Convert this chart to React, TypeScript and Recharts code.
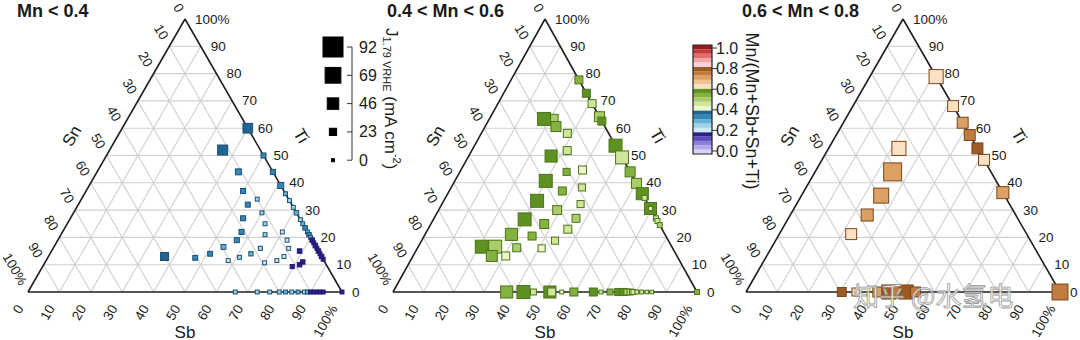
import React from 'react';
import { ScatterChart, Scatter, XAxis, YAxis, ReferenceLine, ReferenceArea } from 'recharts';

const W = 1080;
const H = 340;

const TICKS = [0, 10, 20, 30, 40, 50, 60, 70, 80, 90, 100];
const TITLES = ['Mn < 0.4', '0.4 < Mn < 0.6', '0.6 < Mn < 0.8'];
const SIZE_LEGEND = [92, 69, 46, 23, 0];
const COLOR_TICKS = [1.0, 0.8, 0.6, 0.4, 0.2, 0.0];

// each point: [Sb %, Ti %, J at 1.79 V_RHE (mA cm-2), Mn/(Mn+Sb+Sn+Ti)]
type Pt = [number, number, number, number];

const lowMn: Pt[] = [
  [40, 60, 36, 0.37], [36, 52, 38, 0.36], [50, 50, 11, 0.33], [56, 44, 11, 0.32],
  [45, 44, 16, 0.34], [61, 39, 16, 0.34], [50, 37, 11, 0.33], [56, 34, 5, 0.25],
  [54, 32, 11, 0.34], [60, 29, 5, 0.25], [71, 29, 8, 0.3], [55, 27, 11, 0.34],
  [63, 25, 5, 0.25], [70, 22, 5, 0.21], [57, 22, 11, 0.34], [65, 21, 5, 0.26],
  [57, 19, 11, 0.33], [73, 19, 5, 0.21], [66, 16, 6, 0.27], [54, 16.5, 10, 0.31],
  [75, 16, 5, 0.22], [64, 14, 7, 0.28], [61, 12.7, 5, 0.27], [75, 13, 5, 0.21],
  [58, 11.5, 5, 0.21], [51, 14, 10, 0.32], [47, 12.5, 10, 0.32], [37, 13, 27, 0.37],
  [70, 10.7, 5, 0.21], [73.5, 11.5, 5, 0.23],
  [79, 15, 8, 0.18], [82, 11, 8, 0.17], [81.5, 10, 8, 0.17], [79.5, 9.3, 6, 0.16],
  [64, 36, 5, 0.3], [66.5, 33.5, 5, 0.26], [69, 31, 5, 0.24], [73.5, 26.5, 5, 0.27],
  [75, 25, 5, 0.3], [76.5, 23.5, 8, 0.33], [78, 22, 5, 0.28], [79, 21, 8, 0.33],
  [80, 20, 5, 0.3], [81, 19, 8, 0.18], [82, 18, 5, 0.17], [83, 17, 8, 0.16],
  [84, 16, 5, 0.17], [85, 15, 8, 0.16], [86, 14, 5, 0.16], [87, 13, 8, 0.17],
  [88, 12, 5, 0.16],
  [66, 0, 5, 0.25], [73, 0, 5, 0.27], [77, 0, 5, 0.26], [80, 0, 5, 0.25],
  [82, 0, 5, 0.3], [84, 0, 5, 0.24], [86, 0, 5, 0.3], [88, 0, 5, 0.26],
  [89, 0, 5, 0.3], [90, 0, 5, 0.17], [91, 0, 5, 0.16], [92, 0, 5, 0.17],
  [93, 0, 5, 0.16], [94, 0, 5, 0.17], [100, 0, 5, 0.16],
];

const midMn: Pt[] = [
  [22.3, 77.7, 27, 0.52], [27.2, 72.8, 27, 0.56], [31, 69, 27, 0.46], [35.8, 64.2, 38, 0.5],
  [37.4, 62.6, 27, 0.56], [46.4, 53.6, 54, 0.58], [50.7, 49.3, 54, 0.46], [56, 44, 38, 0.52],
  [60.2, 39.8, 38, 0.5], [64, 36, 49, 0.56], [65.5, 34.5, 11, 0.44], [69.4, 30.6, 49, 0.58],
  [69.4, 30.6, 5, 0.42], [73, 27, 11, 0.44], [74, 26, 11, 0.46], [75.5, 24.5, 11, 0.48],
  [21.2, 63.6, 27, 0.5], [18, 63.4, 54, 0.56], [23.3, 60.6, 38, 0.52], [28.3, 58.1, 27, 0.44],
  [31.4, 51.8, 27, 0.44], [27.1, 49.8, 49, 0.57], [35.1, 44, 22, 0.53], [40, 44.7, 27, 0.42],
  [29.9, 40.7, 54, 0.57], [37.2, 37, 27, 0.53], [43, 38.3, 22, 0.44], [30.7, 33.4, 54, 0.57],
  [39, 30, 32, 0.5], [45.6, 32.2, 22, 0.44], [46.7, 27, 27, 0.48], [30, 26.6, 54, 0.56],
  [37.3, 24.9, 32, 0.52], [46, 23, 27, 0.44], [28.4, 21.1, 49, 0.53], [35.5, 20.5, 27, 0.52],
  [43.9, 18.8, 22, 0.44], [32.6, 16.2, 27, 0.48], [40.9, 16, 22, 0.42], [20.9, 16.6, 54, 0.57],
  [25.3, 16.6, 54, 0.48], [25.9, 13.2, 43, 0.52], [30.5, 13.2, 27, 0.43],
  [37.4, 0, 49, 0.52], [42.9, 0, 54, 0.58], [46.2, 0, 16, 0.44], [51.6, 0, 49, 0.58],
  [52.2, 0, 27, 0.44], [55.5, 0, 5, 0.41], [59.5, 0, 27, 0.52], [65.9, 0, 27, 0.58],
  [68.4, 0, 5, 0.44], [71.4, 0, 16, 0.52], [74.1, 0, 22, 0.58], [75.8, 0, 22, 0.58],
  [76.9, 0, 16, 0.5], [78, 0, 16, 0.46], [78.6, 0, 11, 0.42], [79.1, 0, 11, 0.44],
  [80.2, 0, 5, 0.44], [81.8, 0, 5, 0.44], [83.5, 0, 3, 0.44], [85.1, 0, 3, 0.44],
  [100, 0, 11, 0.52],
];

const highMn: Pt[] = [
  [21.1, 78.9, 60, 0.61], [31.9, 68.1, 43, 0.62], [38, 62, 43, 0.68], [42.5, 57.5, 43, 0.74],
  [47.4, 52.6, 43, 0.76], [51.6, 48.4, 43, 0.62], [63.6, 36.4, 49, 0.68],
  [22.4, 52.6, 60, 0.62], [24.7, 44, 81, 0.68], [25.4, 35.3, 65, 0.68], [24.5, 28.2, 49, 0.68],
  [22.9, 21.2, 43, 0.61],
  [30.5, 0, 32, 0.76], [35, 0, 27, 0.62], [42, 0, 38, 0.7], [45.5, 0, 60, 0.77],
  [48, 0, 49, 0.74], [51, 0, 60, 0.77], [54, 0, 38, 0.72], [100, 0, 70, 0.75],
];

// colour bar steps, bottom (0.0) to top (1.0)
const COLOR_STEPS = [
  '#d8d2f4', '#b4aaea', '#8c80dc', '#5a4cc0', '#2c2088',
  '#cdeaf6', '#9fd3ea', '#66b2d6', '#3585b5', '#1f6593',
  '#eef7c9', '#cfe69c', '#aacd6c', '#84b240', '#5f9122',
  '#fbe1c3', '#efc393', '#dca065', '#c07c3c', '#9c5b22',
  '#f7d2d2', '#efa6a6', '#df7070', '#c63c3c', '#9e1a1a',
];
const EDGE = ['#221870', '#1b4f72', '#4c7419', '#7a4518', '#7a1212'];

const PANELS = [
  { L: 28, R: 342, T: 19, B: 292 },
  { L: 393, R: 697, T: 19, B: 292 },
  { L: 746, R: 1060, T: 19, B: 292 },
];

type Panel = typeof PANELS[number];

function tern(p: Panel, sb: number, ti: number) {
  const sn = 1 - sb - ti;
  const cx = (p.L + p.R) / 2;
  return { x: p.L * sn + p.R * sb + cx * ti, y: p.B - (p.B - p.T) * ti };
}

const side = (j: number) => 3 + (17 * j) / 92;
const fillOf = (mn: number) => COLOR_STEPS[Math.max(0, Math.min(24, Math.floor(mn * 25)))];
const edgeOf = (mn: number) => EDGE[Math.max(0, Math.min(4, Math.floor(mn * 5)))];

const FONT = "Arial, 'Liberation Sans', Helvetica, sans-serif";

const points = [lowMn, midMn, highMn].flatMap((pts, i) =>
  pts.map(([sb, ti, j, mn]) => ({
    ...tern(PANELS[i], sb / 100, ti / 100),
    side: side(j),
    fill: fillOf(mn),
    stroke: edgeOf(mn),
  }))
);

const legendSquares = SIZE_LEGEND.map((j, i) => ({ x: 333, y: 47 + i * 28.3, side: side(j), fill: '#000', stroke: '#000' }));

type Lbl = { x: number; y: number; text: string; anchor: string; rot: number; size: number; weight?: number; rich?: string };

const labels: Lbl[] = [];
PANELS.forEach((p, i) => {
  TICKS.forEach((t) => {
    const txt = t === 100 ? '100%' : String(t);
    const v = t / 100;
    const b = tern(p, v, 0);
    labels.push({ x: b.x - 8, y: b.y + 14, text: txt, anchor: 'end', rot: -60, size: 13.5 });
    const r = tern(p, 1 - v, v);
    labels.push({ x: r.x + 10, y: r.y, text: txt, anchor: 'start', rot: 0, size: 13.5 });
    const l = tern(p, 0, 1 - v);
    labels.push({ x: l.x - 4.5, y: l.y - 7.8, text: txt, anchor: 'end', rot: 60, size: 13.5 });
  });
  const hw = (p.R - p.L) / 2;
  const cx = p.L + hw;
  labels.push({ x: cx - (113 * hw) / 157, y: p.T + 117, text: 'Sn', anchor: 'middle', rot: -60, size: 17 });
  labels.push({ x: cx + (116 * hw) / 157, y: p.T + 117, text: 'Ti', anchor: 'middle', rot: 60, size: 17 });
  labels.push({ x: cx, y: 332, text: 'Sb', anchor: 'middle', rot: 0, size: 17 });
});
labels.push({ x: 17, y: 11, text: TITLES[0], anchor: 'start', rot: 0, size: 18, weight: 700 });
labels.push({ x: 387, y: 11, text: TITLES[1], anchor: 'start', rot: 0, size: 18, weight: 700 });
labels.push({ x: 742, y: 11, text: TITLES[2], anchor: 'start', rot: 0, size: 18, weight: 700 });
SIZE_LEGEND.forEach((j, i) => labels.push({ x: 359, y: 47 + i * 28.3, text: String(j), anchor: 'start', rot: 0, size: 16 }));
COLOR_TICKS.forEach((c, i) => labels.push({ x: 716, y: 48 + i * 20.6, text: c.toFixed(1), anchor: 'start', rot: 0, size: 16 }));
labels.push({ x: 391, y: 28, text: 'J', anchor: 'start', rot: 90, size: 17, rich: 'j' });
labels.push({ x: 752, y: 111, text: 'Mn/(Mn+Sb+Sn+Ti)', anchor: 'middle', rot: 90, size: 18 });

const Square = (props: any) => {
  const { cx, cy, payload } = props;
  const s = payload.side;
  return <rect x={cx - s / 2} y={cy - s / 2} width={s} height={s} fill={payload.fill} stroke={payload.stroke} strokeWidth={1} />;
};

const TextMark = (props: any) => {
  const { cx, cy, payload: p } = props;
  return (
    <text
      x={cx}
      y={cy}
      textAnchor={p.anchor}
      dominantBaseline="central"
      fontSize={p.size}
      fontWeight={p.weight || 400}
      fontFamily={FONT}
      fill="#1a1a1a"
      transform={p.rot ? `rotate(${p.rot} ${cx} ${cy})` : undefined}
    >
      {p.rich === 'j' ? (
        <>
          J
          <tspan fontSize={11} dy={4}>1.79 VRHE</tspan>
          <tspan dy={-4}> (mA cm</tspan>
          <tspan fontSize={11} dy={-6}>-2</tspan>
          <tspan dy={6}>)</tspan>
        </>
      ) : (
        p.text
      )}
    </text>
  );
};

const Watermark = (props: any) => {
  const { cx, cy } = props;
  return (
    <text x={cx} y={cy} dominantBaseline="central" fontSize={26} fontFamily="'Noto Sans CJK SC', sans-serif" fill="#ffffff" stroke="#8a8a8a" strokeWidth={0.8} opacity={0.85}>
      知乎 @水氢电
    </text>
  );
};

function gridSegments() {
  const segs: { a: { x: number; y: number }; b: { x: number; y: number }; border: boolean }[] = [];
  PANELS.forEach((p) => {
    for (let k = 1; k < 10; k++) {
      const v = k / 10;
      segs.push({ a: tern(p, 0, v), b: tern(p, 1 - v, v), border: false });
      segs.push({ a: tern(p, v, 0), b: tern(p, v, 1 - v), border: false });
      segs.push({ a: tern(p, 0, 1 - v), b: tern(p, 1 - v, 0), border: false });
    }
    segs.push({ a: tern(p, 0, 0), b: tern(p, 1, 0), border: true });
    segs.push({ a: tern(p, 1, 0), b: tern(p, 0, 1), border: true });
    segs.push({ a: tern(p, 0, 1), b: tern(p, 0, 0), border: true });
  });
  return segs;
}

export default function App() {
  const segs = gridSegments();
  const barTop = 45;
  const barBottom = 154;
  const stepH = (barBottom - barTop) / COLOR_STEPS.length;
  return (
    <div style={{ position: 'absolute', left: 0, top: 0, width: W, height: H, background: '#fff' }}>
      <ScatterChart width={W} height={H} margin={{ top: 0, right: 0, bottom: 0, left: 0 }}>
        <XAxis type="number" dataKey="x" domain={[0, W]} hide allowDataOverflow />
        <YAxis type="number" dataKey="y" domain={[0, H]} reversed hide allowDataOverflow />
        {segs.map((s, i) => (
          <ReferenceLine
            key={'g' + i}
            segment={[s.a, s.b]}
            stroke={s.border ? '#1e1e1e' : '#cfcfcf'}
            strokeWidth={s.border ? 1.6 : 1.1}
            ifOverflow="visible"
          />
        ))}
        {COLOR_STEPS.map((c, i) => (
          <ReferenceArea
            key={'c' + i}
            x1={693}
            x2={712}
            y1={barBottom - stepH * i}
            y2={barBottom - stepH * (i + 1)}
            fill={c}
            fillOpacity={1}
            stroke="none"
            ifOverflow="visible"
          />
        ))}
        <ReferenceArea x1={693} x2={712} y1={barTop} y2={barBottom} fill="none" stroke="#222" strokeWidth={1.2} ifOverflow="visible" />
        {COLOR_TICKS.map((c, i) => (
          <ReferenceLine key={'ct' + i} segment={[{ x: 712, y: 48 + i * 20.6 }, { x: 717, y: 48 + i * 20.6 }]} stroke="#333" ifOverflow="visible" />
        ))}
        <ReferenceLine segment={[{ x: 352, y: 47 }, { x: 352, y: 160 }]} stroke="#333" ifOverflow="visible" />
        {SIZE_LEGEND.map((j, i) => (
          <ReferenceLine key={'st' + i} segment={[{ x: 347, y: 47 + i * 28.3 }, { x: 352, y: 47 + i * 28.3 }]} stroke="#333" ifOverflow="visible" />
        ))}
        <Scatter data={points} shape={Square} isAnimationActive={false} />
        <Scatter data={legendSquares} shape={Square} isAnimationActive={false} />
        <Scatter data={labels} shape={TextMark} isAnimationActive={false} />
        <Scatter data={[{ x: 853, y: 294 }]} shape={Watermark} isAnimationActive={false} />
      </ScatterChart>
    </div>
  );
}
